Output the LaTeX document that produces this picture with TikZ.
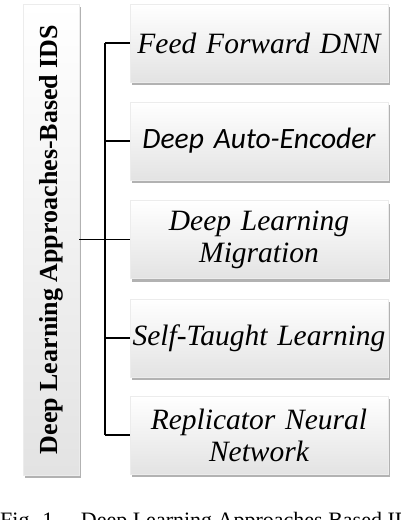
\documentclass[tikz,border=0pt]{standalone}
\usepackage{fontspec}
\usepackage{graphicx}
\setmainfont{Liberation Serif}
\newfontfamily\calibrifont{Carlito}
\usetikzlibrary{shadows}

\tikzset{
	leafbox/.style = {rectangle, minimum width = 258pt, minimum height = 78pt, inner sep = 0pt,
		text width = 258pt, align = center, top color = white, bottom color = gray!22,
		draw = gray!15, line width = 0.3pt,
		drop shadow = {shadow xshift = 2pt, shadow yshift = -3pt, fill = black, opacity = 0.3},
		font = \fontsize{29.5pt}{32pt}\selectfont\itshape},
	rootbox/.style = {leafbox, minimum width = 56pt, minimum height = 471pt, text width = {},
		font = \fontsize{26pt}{30pt}\selectfont\bfseries},
	link/.style = {line width = 1.8pt}
}

\begin{document}
\begin{tikzpicture}[x = 1pt, y = -1pt]
		\clip (0,0) rectangle (400,520);
		\fill[white] (0,0) rectangle (400,520);
		% root on the left, read from bottom to top
		\node[rootbox] (root) at (51,239.5) {\rotatebox{90}{Deep Learning Approaches-Based IDS}};
		% the five approaches
		\node[leafbox] (ffdnn) at (259,43) {Feed Forward DNN};
		\node[leafbox] (dae) at (259,141) {\calibrifont\itshape Deep Auto-Encoder};
		\node[leafbox] (dlm) at (259,239.5) {Deep Learning\\Migration};
		\node[leafbox] (stl) at (259,338) {Self-Taught Learning};
		\node[leafbox] (rnn) at (259,435) {Replicator Neural\\Network};
		\coordinate (bus) at (105,0);
		\draw[link] (root.east |- dlm.west) -- (dlm.west);
		\draw[link] (ffdnn.west -| bus) -- (rnn.west -| bus);
		\foreach \leaf in {ffdnn, dae, stl, rnn}
			\draw[link] (\leaf.west -| bus) -- (\leaf.west);
		% caption, cut by the page edge
		\node[anchor = base west, inner sep = 0pt, font = \fontsize{22pt}{24pt}\selectfont] (caption) at (0,527)
			{Fig. 1.\quad Deep Learning Approaches Based IDS};
\end{tikzpicture}
\end{document}
